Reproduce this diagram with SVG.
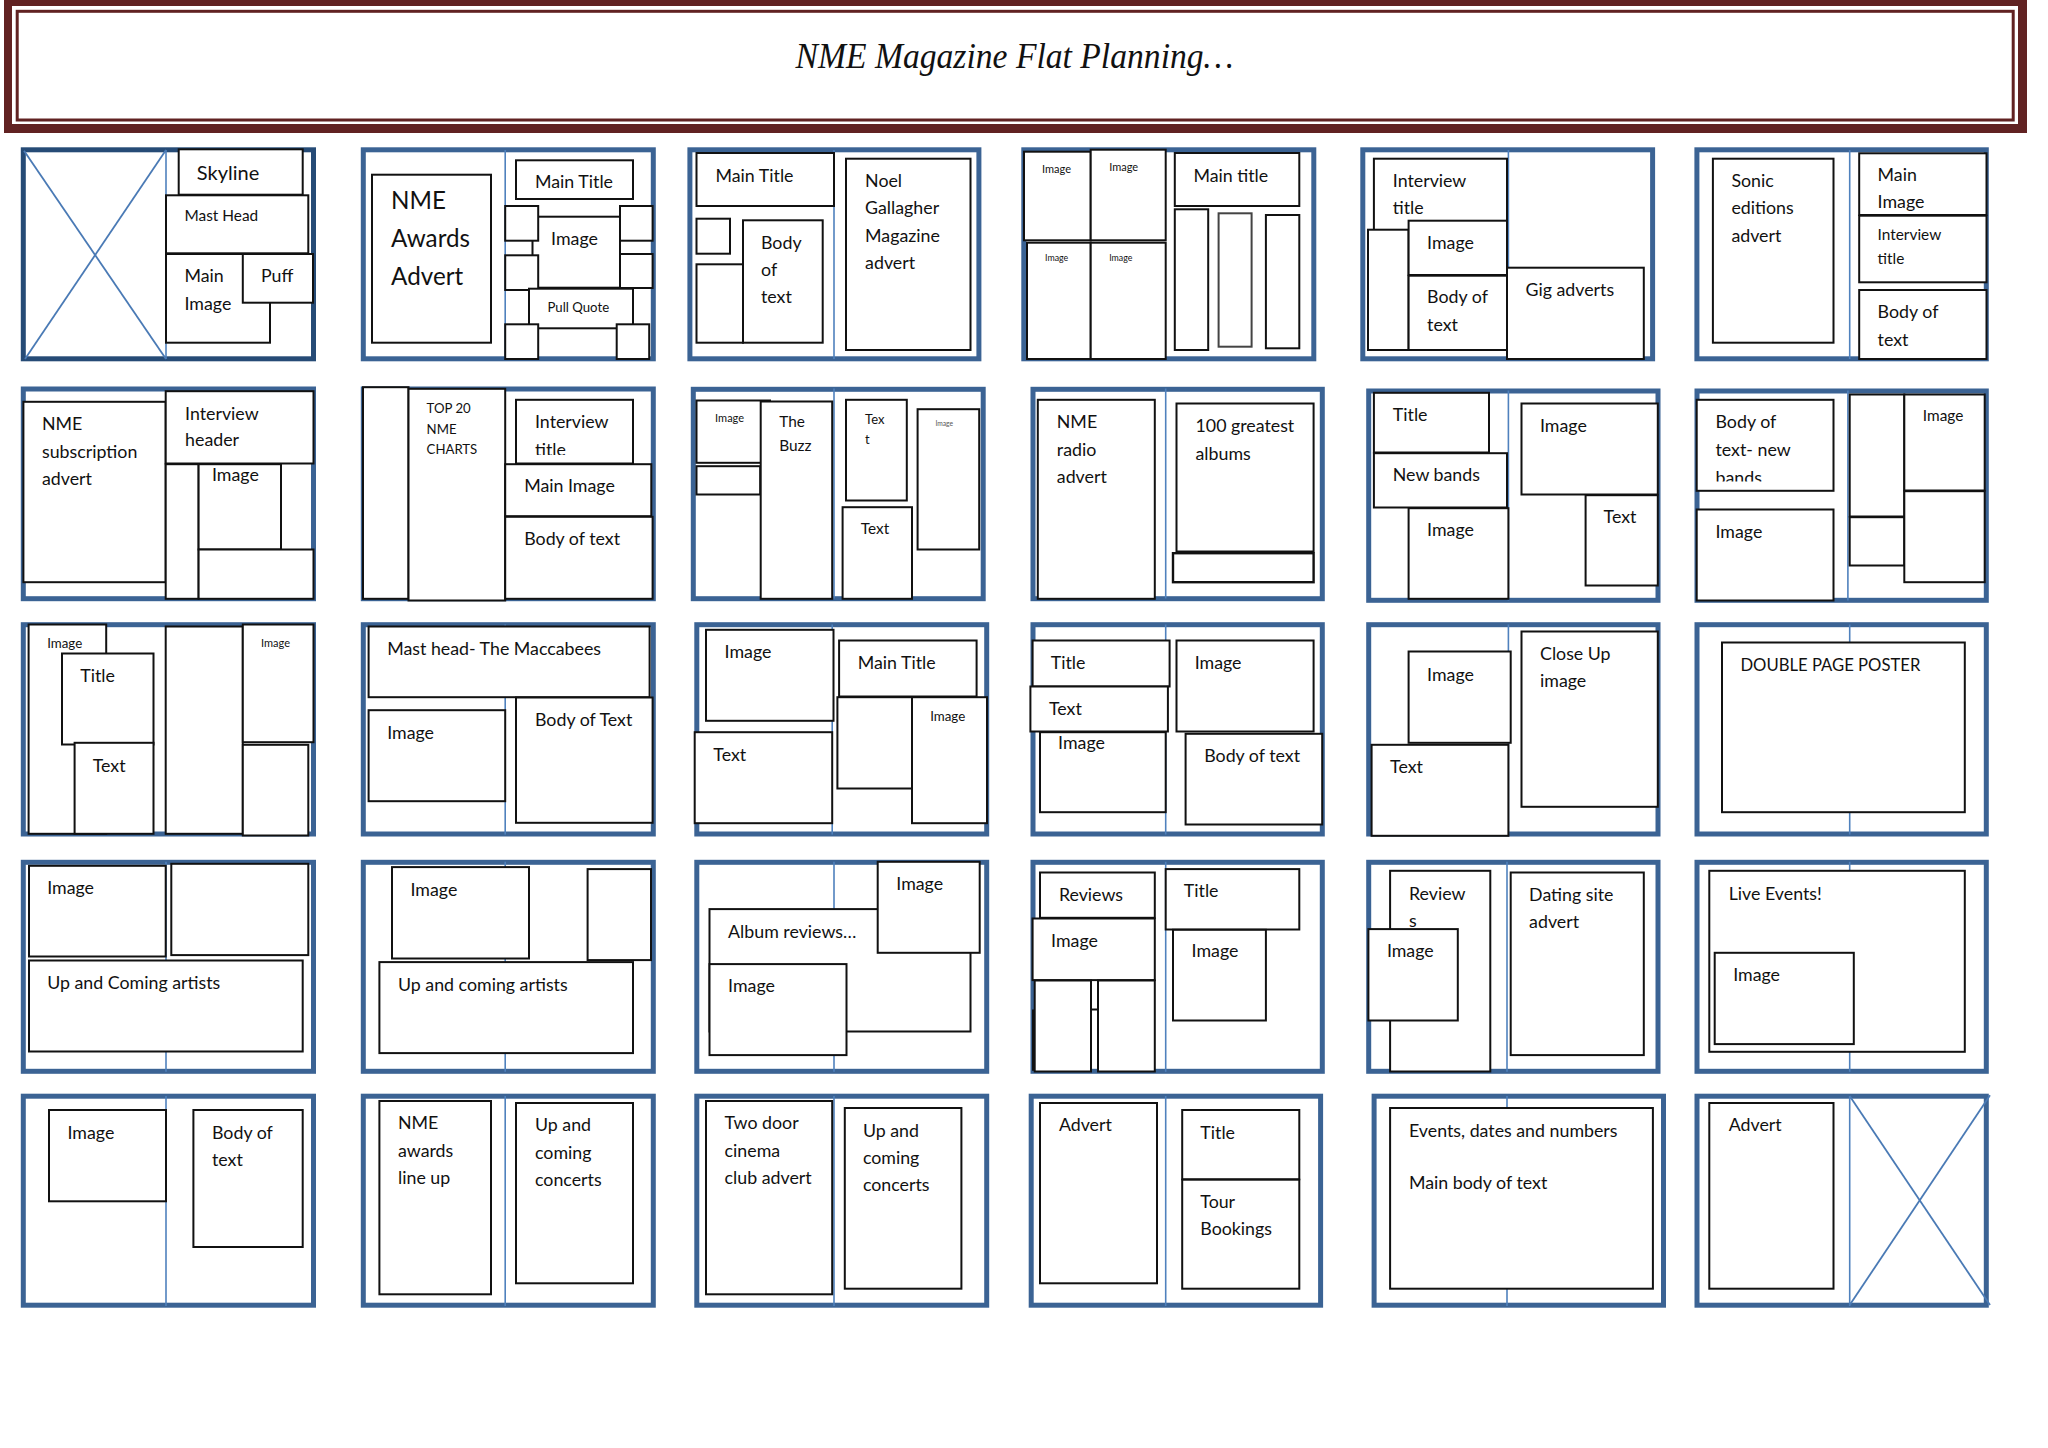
<svg xmlns="http://www.w3.org/2000/svg" width="2048" height="1448" viewBox="0 0 2048 1448">
<style>
rect{fill:#fff;stroke:#111;stroke-width:2}
rect.bg{stroke:none}
rect.f{stroke:#3b6394;stroke-width:5}
rect.fd{stroke:#264b76;stroke-width:5}
line.s{stroke:#4f81bd;stroke-width:1.6}
line.x{stroke:#4a7ab5;stroke-width:1.8}
line.b{stroke:#111;stroke-width:2}
text{font-family:Lato,"Liberation Sans",sans-serif;font-size:17.8px;fill:#111;transform:translate(-.5px,0)}
.l{font-size:24.2px}.sk{font-size:20px}.m{font-size:15.4px}.pq{font-size:13.2px}.c{font-size:13.2px}
.xs{font-size:11px}.xx{font-size:8.8px}.t{font-size:6.7px;fill:#555}.i{font-size:13.3px}.tx{font-size:13px}
</style>
<defs><clipPath id="cb"><rect x="1700" y="465" width="130" height="16"/></clipPath><clipPath id="ct"><rect x="520" y="435" width="100" height="19.5"/></clipPath></defs>
<rect class="bg" width="2048" height="1448"/>
<g id="header">
<path d="M4 0H2027V133H4Z M12 6V124H2018V6Z" fill="#612222" fill-rule="evenodd"/>
<rect x="17.2" y="11.3" width="1996" height="108.7" style="stroke:#612222;stroke-width:3;fill:#fff"/>
<text x="796" y="68" style="font-family:'Liberation Serif',serif;font-style:italic;font-size:36px" textLength="438" lengthAdjust="spacingAndGlyphs">NME Magazine Flat Planning…</text>
</g>
<g id="s1-1"><rect class="fd" x="23.3" y="149.8" width="290.2" height="209"/><line class="s" x1="166" y1="150" x2="166" y2="359"/><line class="x" x1="24" y1="150.7" x2="166" y2="359"/><line class="x" x1="166" y1="150" x2="25" y2="359"/>
<rect x="166" y="254" width="104" height="88.7"/><rect x="178.7" y="149.3" width="124" height="45.4"/><rect x="166" y="195.3" width="142.3" height="58"/><rect x="242.8" y="254" width="70.2" height="48.7"/>
<text class="sk" x="197.3" y="180">Skyline</text><text class="m" x="185" y="221">Mast Head</text><text x="185" y="282.3">Main</text><text x="185" y="309.5">Image</text><text x="261.5" y="282.3">Puff</text></g>
<g id="s1-2"><rect class="f" x="363.3" y="149.8" width="290" height="209"/><line class="s" x1="505.2" y1="150" x2="505.2" y2="359"/>
<rect x="372" y="174.7" width="119" height="168"/><rect x="516" y="160.3" width="117" height="38.7"/><rect x="532.5" y="216.7" width="87.5" height="71"/>
<rect x="505.2" y="206" width="33" height="34.7"/><rect x="620" y="206" width="32.6" height="34.7"/><rect x="505.2" y="255.3" width="33" height="34.7"/><rect x="620" y="254" width="32.6" height="34"/><rect x="529" y="288.7" width="104" height="39.6"/><rect x="505.2" y="324.3" width="33" height="34.7"/><rect x="616.7" y="324.3" width="32.5" height="34.7"/>
<text class="l" x="391.6" y="209.3">NME</text><text class="l" x="391.6" y="247">Awards</text><text class="l" x="391.6" y="285">Advert</text><text x="535.5" y="188.3">Main Title</text><text x="551.6" y="245">Image</text><text class="pq" x="548" y="311.7">Pull Quote</text></g>
<g id="s1-3"><rect class="f" x="689.9" y="149.8" width="289" height="209"/><line class="s" x1="834" y1="150" x2="834" y2="359"/>
<rect x="696.5" y="153" width="137.5" height="53"/><rect x="696.5" y="218.7" width="33.5" height="35"/><rect x="696.5" y="264.3" width="46.5" height="78.4"/><rect x="743" y="220.3" width="79.7" height="122.4"/><rect x="846" y="158.7" width="124.5" height="191.3"/>
<text x="716" y="181.7">Main Title</text><text x="761.5" y="249.3">Body</text><text x="761.5" y="276">of</text><text x="761.5" y="303.3">text</text><text x="865.6" y="186.7">Noel</text><text x="865.6" y="214.3">Gallagher</text><text x="865.6" y="241.7">Magazine</text><text x="865.6" y="269">advert</text></g>
<g id="s1-4"><rect class="f" x="1023.8" y="149.8" width="290" height="209"/>
<rect x="1024" y="151.7" width="66.7" height="88.6"/><rect x="1090.7" y="149.7" width="75" height="90.6"/><rect x="1027" y="242.7" width="63.7" height="116.3"/><rect x="1090.7" y="242.7" width="75" height="116.3"/><rect x="1174.8" y="153" width="124.5" height="53"/><rect x="1174.8" y="209.3" width="33.4" height="140.7"/><rect x="1218.6" y="213.3" width="33" height="133.4" style="stroke:#444"/><rect x="1265.9" y="215" width="33.4" height="133.3"/>
<text class="xs" x="1042.5" y="172.7">Image</text><text class="xs" x="1109.7" y="170.7">Image</text><text class="xx" x="1045.6" y="261">Image</text><text class="xx" x="1109.7" y="261">Image</text><text x="1193.9" y="181.7">Main title</text></g>
<g id="s1-5"><rect class="f" x="1362.8" y="149.8" width="289.8" height="209"/><line class="s" x1="1508.4" y1="150" x2="1508.4" y2="359"/>
<rect x="1373.9" y="158.7" width="133.1" height="71.3"/><rect x="1368" y="229.7" width="40.6" height="120.3"/><rect x="1408.6" y="220.7" width="98.4" height="54.3"/><rect x="1408.6" y="275.7" width="98.4" height="74.3"/><rect x="1507" y="267.7" width="136.8" height="91.3"/>
<text x="1393.3" y="186.7">Interview</text><text x="1393.3" y="214">title</text><text x="1427.6" y="249.3">Image</text><text x="1427.6" y="303.3">Body of</text><text x="1427.6" y="330.7">text</text><text x="1526" y="296">Gig adverts</text></g>
<g id="s1-6"><rect class="f" x="1696.9" y="149.8" width="289.4" height="209"/><line class="s" x1="1849.7" y1="150" x2="1849.7" y2="359"/>
<rect x="1712.9" y="158.7" width="120.6" height="184"/><rect x="1859.2" y="153.3" width="127.3" height="61.7"/><rect x="1859.2" y="215.7" width="127.3" height="66.6"/><rect x="1859.2" y="290" width="127.3" height="69"/>
<text x="1731.9" y="186.7">Sonic</text><text x="1731.9" y="214">editions</text><text x="1731.9" y="241.7">advert</text><text x="1878.1" y="181">Main</text><text x="1878.1" y="208.3">Image</text><text class="m" x="1878.1" y="240">Interview</text><text class="m" x="1878.1" y="264.3">title</text><text x="1878.1" y="318.3">Body of</text><text x="1878.1" y="345.7">text</text></g>

<g id="row2" transform="translate(0,.5)">
<g id="s2-1"><rect class="f" x="23.3" y="388.5" width="290.2" height="209.7"/>
<rect x="23.4" y="401.3" width="142.3" height="180.4"/><rect x="165.7" y="390.7" width="147.8" height="72.3"/><rect x="165.7" y="463.7" width="32.9" height="134.6"/><rect x="198.6" y="463.7" width="82.4" height="85.3"/><rect x="198.6" y="549" width="114.9" height="49.3"/>
<text x="42.5" y="429.3">NME</text><text x="42.5" y="457.3">subscription</text><text x="42.5" y="484.3">advert</text><text x="185.6" y="419">Interview</text><text x="185.6" y="445.7">header</text><text x="212.5" y="480.7">Image</text></g>
<g id="s2-2"><rect class="f" x="363.3" y="388.5" width="290" height="209.7"/>
<rect x="363" y="386.7" width="45.5" height="211.6"/><rect x="408.5" y="388.3" width="96.7" height="211.7"/><rect x="516" y="399.3" width="117" height="63.7"/><rect x="505.2" y="463.7" width="146.1" height="52"/><rect x="505.2" y="516.3" width="147.4" height="82"/>
<text class="c" x="427.1" y="412.7">TOP 20</text><text class="c" x="427.1" y="433.3">NME</text><text class="c" x="427.1" y="453.3">CHARTS</text><text x="535.5" y="427.7">Interview</text><text x="535.5" y="455.5" clip-path="url(#ct)">title</text><text x="524.7" y="491.7">Main Image</text><text x="524.7" y="544.3">Body of text</text></g>
<g id="s2-3"><rect class="f" x="693.3" y="388.8" width="289.9" height="209.4"/><line class="s" x1="834" y1="388" x2="834" y2="598"/>
<rect x="696.5" y="400" width="73.5" height="62.3"/><rect x="696.5" y="465.7" width="63.7" height="28.3"/><rect x="760.7" y="401" width="71.5" height="197.3"/><rect x="846" y="399.3" width="60.8" height="100.7"/><rect x="917.6" y="408.7" width="61.6" height="140.3"/><rect x="842.6" y="506.7" width="69.4" height="91.6"/>
<text class="xs" x="715.6" y="421.7">Image</text><text class="m" x="779.7" y="426.7">The</text><text class="m" x="779.7" y="450.7">Buzz</text><text class="tx" x="865.6" y="423.3">Tex</text><text class="tx" x="865.6" y="443.7">t</text><text class="t" x="935.9" y="425">Image</text><text class="m" x="861.3" y="533.3">Text</text></g>
<g id="s2-4"><rect class="f" x="1033" y="388.8" width="289.3" height="209.4"/><line class="s" x1="1165.7" y1="388" x2="1165.7" y2="598"/>
<rect x="1037.8" y="399.3" width="117" height="199"/><rect x="1176.5" y="403" width="137.1" height="148"/><rect x="1173" y="552.7" width="140.6" height="29" style="stroke-width:2.4"/>
<text x="1057.3" y="427.7">NME</text><text x="1057.3" y="455">radio</text><text x="1057.3" y="482.3">advert</text><text x="1196" y="431.7">100 greatest</text><text x="1196" y="459">albums</text></g>
<g id="s2-5"><rect class="f" x="1368.7" y="390.5" width="289.3" height="209.3"/><line class="s" x1="1508.4" y1="390" x2="1508.4" y2="600"/>
<rect x="1373.9" y="392.3" width="115.1" height="59.7"/><rect x="1373.9" y="452.7" width="133.1" height="54.3"/><rect x="1408.6" y="507.7" width="99.8" height="90.6"/><rect x="1521.5" y="403" width="136.3" height="91"/><rect x="1585.6" y="494.7" width="72.2" height="90.3"/>
<text x="1393.3" y="420">Title</text><text x="1393.3" y="480.7">New bands</text><text x="1427.6" y="535">Image</text><text x="1540.5" y="431.7">Image</text><text x="1604.1" y="522.7">Text</text></g>
<g id="s2-6"><rect class="f" x="1697" y="390.5" width="289.3" height="209.3"/><line class="s" x1="1847.9" y1="390" x2="1847.9" y2="600"/>
<rect x="1696.7" y="399.3" width="136.8" height="91"/><rect x="1696.7" y="509" width="136.8" height="91"/><rect x="1849.7" y="394" width="54.6" height="122"/><rect x="1849.7" y="516.7" width="54.6" height="48.3"/><rect x="1904.3" y="394" width="80.4" height="96"/><rect x="1904.3" y="490.7" width="80.4" height="91"/>
<text x="1716" y="427.7">Body of</text><text x="1716" y="455">text- new</text><text x="1716" y="483" clip-path="url(#cb)">bands</text><text x="1716" y="537.7">Image</text><text class="m" x="1923.3" y="420">Image</text></g>
</g>

<g id="row3" transform="translate(0,.5)">
<g id="s3-1"><rect class="f" x="23.3" y="624.2" width="290.2" height="209.3"/>
<rect x="28.6" y="624" width="77.6" height="209.3"/><rect x="62" y="653" width="91.5" height="91"/><rect x="74.6" y="742.3" width="78.9" height="91"/><rect x="165.7" y="626" width="77.1" height="207.3"/><rect x="242.8" y="624" width="70.7" height="117.7"/><rect x="242.8" y="744.3" width="65.5" height="90.7"/>
<text class="i" x="47.7" y="647.3">Image</text><text x="80.7" y="681.7">Title</text><text x="93.2" y="771">Text</text><text class="xs" x="261.5" y="646">Image</text></g>
<g id="s3-2"><rect class="f" x="363.3" y="624.2" width="290" height="209.3"/><line class="s" x1="505.2" y1="624" x2="505.2" y2="834"/>
<rect x="368.6" y="626" width="281" height="70.7"/><rect x="368.6" y="709.7" width="136.6" height="91"/><rect x="516" y="697" width="136.6" height="125.3"/>
<text x="387.7" y="654">Mast head- The Maccabees</text><text x="387.7" y="738.3">Image</text><text x="535.5" y="725.7">Body of Text</text></g>
<g id="s3-3"><rect class="f" x="696.8" y="624.2" width="289.9" height="209.3"/><line class="s" x1="832.2" y1="624" x2="832.2" y2="834"/>
<rect x="706" y="629.3" width="127.5" height="91"/><rect x="694.7" y="731.7" width="137.5" height="91"/><rect x="839.1" y="640" width="137.5" height="56"/><rect x="837.4" y="696.7" width="74.6" height="91.3"/><rect x="912" y="696.7" width="75" height="126"/>
<text x="725.1" y="657.7">Image</text><text x="713.8" y="760">Text</text><text x="858.2" y="668.3">Main Title</text><text class="i" x="930.7" y="720.7">Image</text></g>
<g id="s3-4"><rect class="f" x="1033" y="624.2" width="289.3" height="209.3"/><line class="s" x1="1165.7" y1="624" x2="1165.7" y2="834"/>
<rect x="1040" y="731.7" width="125.7" height="80"/><rect x="1032.6" y="640" width="137" height="46"/><rect x="1030.4" y="686" width="137.5" height="45"/><rect x="1176.5" y="640" width="137.1" height="91"/><rect x="1185.6" y="733.3" width="136.6" height="90.7"/>
<text x="1051.2" y="668.3">Title</text><text x="1058.6" y="748.3">Image</text><text x="1049.5" y="714">Text</text><text x="1195.2" y="668.3">Image</text><text x="1204.7" y="761.7">Body of text</text></g>
<g id="s3-5"><rect class="f" x="1368.7" y="624.2" width="289.3" height="209.3"/><line class="s" x1="1508.4" y1="624" x2="1508.4" y2="834"/>
<rect x="1408.6" y="651" width="102.1" height="91.3"/><rect x="1371.6" y="744.3" width="136.8" height="91"/><rect x="1521.5" y="631" width="136.3" height="175.3"/>
<text x="1427.6" y="680">Image</text><text x="1390.6" y="772.3">Text</text><text x="1540.5" y="659.3">Close Up</text><text x="1540.5" y="686.7">image</text></g>
<g id="s3-6"><rect class="f" x="1697" y="624.2" width="289.3" height="209.3"/><line class="s" x1="1849.7" y1="624" x2="1849.7" y2="834"/>
<rect x="1722" y="642" width="242.8" height="169.7"/><text x="1740.9" y="670" textLength="180" lengthAdjust="spacingAndGlyphs">DOUBLE PAGE POSTER</text></g>
</g>

<g id="row4" transform="translate(0,.8)">
<g id="s4-1"><rect class="f" x="23.3" y="861.5" width="290.2" height="209"/><line class="s" x1="166" y1="861" x2="166" y2="1071"/>
<rect x="29" y="865" width="136.7" height="90.7"/><rect x="171.3" y="863" width="137" height="91.3"/><rect x="29" y="959.7" width="273.7" height="91"/>
<text x="47.7" y="893.3">Image</text><text x="47.7" y="988.3">Up and Coming artists</text></g>
<g id="s4-2"><rect class="f" x="363.3" y="861.5" width="290" height="209"/><line class="s" x1="505.2" y1="861" x2="505.2" y2="1071"/>
<rect x="392" y="866.3" width="137" height="91.4"/><rect x="587.6" y="868.3" width="63.4" height="91"/><rect x="379.4" y="961.3" width="253.6" height="91"/>
<text x="411" y="895">Image</text><text x="398.5" y="990">Up and coming artists</text></g>
<g id="s4-3"><rect class="f" x="696.8" y="861.5" width="289.9" height="209"/><line class="s" x1="834" y1="861" x2="834" y2="1071"/>
<rect x="709.5" y="908.3" width="261" height="122.4"/><rect x="877.7" y="861" width="102" height="91"/><rect x="709.5" y="963.3" width="137" height="91"/>
<text x="728.6" y="937.3">Album reviews…</text><text x="896.8" y="889.3">Image</text><text x="728.6" y="991.7">Image</text></g>
<g id="s4-4"><rect class="f" x="1033" y="861.5" width="289.3" height="209"/><line class="s" x1="1165.7" y1="861" x2="1165.7" y2="1071"/>
<line class="b" x1="1033" y1="1008.7" x2="1033" y2="1070"/><line class="b" x1="1091" y1="1008.7" x2="1098" y2="1008.7"/>
<rect x="1040" y="871.7" width="114.8" height="45.3"/><rect x="1032.6" y="917.7" width="122.2" height="61.6"/><rect x="1034.7" y="979.7" width="56.3" height="91"/><rect x="1098" y="979.7" width="56.8" height="91"/><rect x="1165.7" y="868.3" width="133.6" height="60.4"/><rect x="1173" y="929" width="92.9" height="90.7"/>
<text x="1059.4" y="900">Reviews</text><text x="1051.6" y="946">Image</text><text x="1184.3" y="896.7">Title</text><text x="1192.1" y="956.7">Image</text></g>
<g id="s4-5"><rect class="f" x="1368.7" y="861.5" width="289.3" height="209"/><line class="s" x1="1507" y1="861" x2="1507" y2="1071"/>
<rect x="1390.1" y="870" width="100.2" height="200.7"/><rect x="1368.4" y="928.3" width="89.4" height="91.4"/><rect x="1510.7" y="871.7" width="133.1" height="182.6"/>
<text x="1409.5" y="899">Review</text><text x="1409.5" y="926">s</text><text x="1387.4" y="956.7">Image</text><text x="1529.6" y="900">Dating site</text><text x="1529.6" y="927.3">advert</text></g>
<g id="s4-6"><rect class="f" x="1697" y="861.5" width="289.3" height="209"/><line class="s" x1="1849.7" y1="861" x2="1849.7" y2="1071"/>
<rect x="1709.3" y="870" width="255.5" height="181"/><rect x="1714.7" y="952" width="139.1" height="91.3"/>
<text x="1729.2" y="899">Live Events!</text><text x="1733.7" y="980.7">Image</text></g>
</g>

<g id="row5" transform="translate(0,1)">
<g id="s5-1"><rect class="f" x="23.3" y="1095.2" width="290.2" height="209"/><line class="s" x1="166" y1="1095" x2="166" y2="1305"/>
<rect x="49" y="1109" width="117" height="91.3"/><rect x="193.4" y="1109" width="109.3" height="137"/>
<text x="68" y="1137.7">Image</text><text x="212.5" y="1137.7">Body of</text><text x="212.5" y="1165">text</text></g>
<g id="s5-2"><rect class="f" x="363.3" y="1095.2" width="290" height="209"/><line class="s" x1="505.2" y1="1095" x2="505.2" y2="1305"/>
<rect x="379.4" y="1100" width="111.6" height="193.3"/><rect x="516" y="1102" width="117" height="180.3"/>
<text x="398.5" y="1128.3">NME</text><text x="398.5" y="1155.7">awards</text><text x="398.5" y="1183.3">line up</text><text x="535.5" y="1130.3">Up and</text><text x="535.5" y="1157.7">coming</text><text x="535.5" y="1185">concerts</text></g>
<g id="s5-3"><rect class="f" x="696.8" y="1095.2" width="289.9" height="209"/><line class="s" x1="834" y1="1095" x2="834" y2="1305"/>
<rect x="706" y="1100" width="126.2" height="193.3"/><rect x="844.8" y="1107" width="116.6" height="180.7"/>
<text x="725.1" y="1128.3">Two door</text><text x="725.1" y="1155.7">cinema</text><text x="725.1" y="1183.3">club advert</text><text x="863.4" y="1135.7">Up and</text><text x="863.4" y="1163">coming</text><text x="863.4" y="1190.3">concerts</text></g>
<g id="s5-4"><rect class="f" x="1031.2" y="1095.2" width="289.4" height="209"/><line class="s" x1="1165.7" y1="1095" x2="1165.7" y2="1305"/>
<rect x="1040" y="1102" width="117" height="180.3"/><rect x="1182.2" y="1109" width="117.1" height="69.3"/><rect x="1182.2" y="1178.7" width="117.1" height="109"/>
<text x="1059.4" y="1130.3">Advert</text><text x="1200.8" y="1137.7">Title</text><text x="1200.8" y="1207">Tour</text><text x="1200.8" y="1234">Bookings</text></g>
<g id="s5-5"><rect class="f" x="1374.1" y="1095.2" width="289.4" height="209"/><line class="s" x1="1507" y1="1095" x2="1507" y2="1305"/>
<rect x="1390.1" y="1107" width="262.8" height="180.7"/>
<text x="1409.5" y="1135.7">Events, dates and numbers</text><text x="1409.5" y="1187.7">Main body of text</text></g>
<g id="s5-6"><rect class="f" x="1697" y="1095.2" width="289.3" height="209"/><line class="s" x1="1849.7" y1="1095" x2="1849.7" y2="1305"/><line class="x" x1="1849.7" y1="1095" x2="1990" y2="1304"/><line class="x" x1="1849.7" y1="1304" x2="1990" y2="1094.3"/>
<rect x="1709.3" y="1102" width="124.2" height="185.7"/><text x="1729.2" y="1130.3">Advert</text></g>
</g>
</svg>
